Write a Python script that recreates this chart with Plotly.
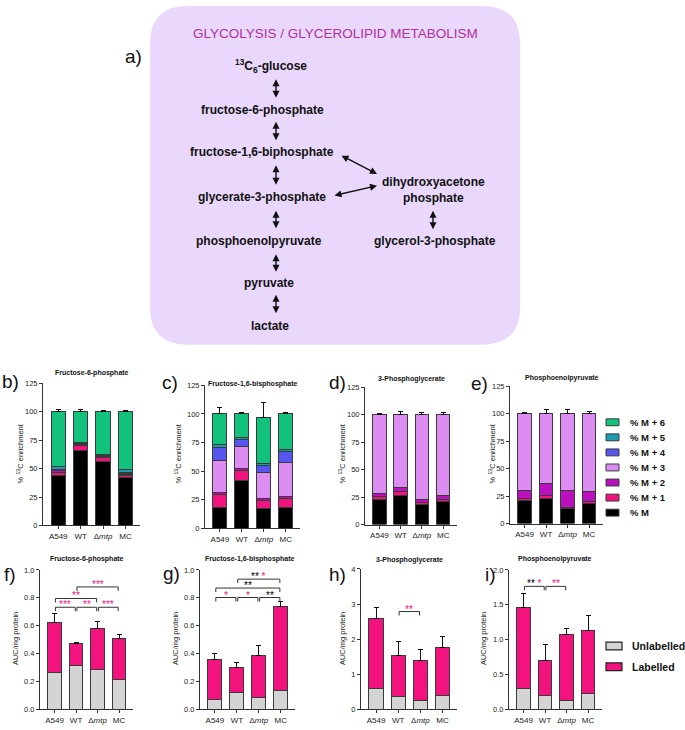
import plotly.graph_objects as go

W, H = 685, 730
FONT = "Liberation Sans, Arial, sans-serif"

# ---------------- data ----------------
groups = ["A549", "WT", "Δmtp", "MC"]
group_ticktext = ["A549", "WT", "Δ<i>mtp</i>", "MC"]

iso_names = ["% M", "% M + 1", "% M + 2", "% M + 3", "% M + 4", "% M + 5", "% M + 6"]
iso_colors = ["#000000", "#f2137e", "#bb10bd", "#dd8cf2", "#5656ee", "#1f9bb0", "#12c27c"]

# b) Fructose-6-phosphate, % 13C enrichment (rows M..M+6, columns = groups)
f6p_iso = [
    [44, 66, 56.5, 42],
    [3, 4, 3, 2],
    [1, 1, 1, 1],
    [0.5, 0.5, 0.5, 0.5],
    [1, 0.5, 0.5, 1.5],
    [2, 0.5, 1, 2],
    [48.5, 27.5, 37.5, 51],
]
f6p_iso_err = [
    [1, 1, 1, 1],
    [1, 1.5, 1, 1],
    [0.5, 0.5, 0.5, 0.5],
    [0.3, 0.3, 0.3, 0.3],
    [0.5, 0.3, 0.3, 0.5],
    [0.5, 0.3, 0.5, 0.5],
    [2, 2, 1.5, 0.7],
]

# c) Fructose-1,6-bisphosphate
f16bp_iso = [
    [18, 42, 17, 18.5],
    [12, 8.5, 7.5, 8],
    [1.5, 1.5, 2, 1.5],
    [27.5, 19.5, 22, 30],
    [12, 6.5, 6.5, 9],
    [2, 1.5, 2, 2],
    [27, 20.5, 40, 31],
]
f16bp_iso_err = [
    [3, 3, 2, 2],
    [1, 1, 3, 1],
    [1, 1, 1, 1],
    [5, 2, 2, 3],
    [2, 2, 2, 2],
    [1.5, 6, 3, 1.5],
    [5.5, 1.3, 13, 1.5],
]

# d) 3-Phosphoglycerate (M..M+3)
pg3_iso = [
    [22.5, 26.5, 18, 21],
    [3, 3.5, 2, 2],
    [3, 4, 2.5, 3],
    [71.5, 66, 77.5, 74],
]
pg3_iso_err = [
    [1.5, 1.5, 1, 1],
    [1, 2, 1, 1],
    [1, 1, 0.5, 1],
    [1, 2.5, 2, 2],
]

# e) Phosphoenolpyruvate (M..M+3)
pep_iso = [
    [20.5, 22.5, 13.5, 18.5],
    [2, 3, 1.5, 1.5],
    [7.5, 11, 15.5, 9.5],
    [70, 63.5, 69.5, 70.5],
]
pep_iso_err = [
    [1.5, 2, 1, 1],
    [1.5, 1.5, 5, 3],
    [1, 3, 6, 2],
    [1.5, 3.5, 3.5, 2],
]

# f-i) AUC / mg protein
auc_names = ["Unlabelled", "Labelled"]
auc_colors = ["#d4d4d4", "#f2137e"]

f6p_unl = [0.266, 0.313, 0.282, 0.212]
f6p_unl_err = [0.03, 0.04, 0.01, 0.02]
f6p_lab = [0.358, 0.157, 0.298, 0.296]
f6p_lab_err = [0.06, 0.01, 0.05, 0.03]

f16bp_unl = [0.071, 0.118, 0.087, 0.136]
f16bp_unl_err = [0.035, 0.037, 0.043, 0.029]
f16bp_lab = [0.289, 0.178, 0.301, 0.605]
f16bp_lab_err = [0.042, 0.04, 0.066, 0.029]

pg3_unl = [0.59, 0.355, 0.243, 0.393]
pg3_unl_err = [0.11, 0.12, 0.085, 0.10]
pg3_lab = [1.99, 1.185, 1.147, 1.364]
pg3_lab_err = [0.33, 0.39, 0.32, 0.32]

pep_unl = [0.298, 0.199, 0.128, 0.227]
pep_unl_err = [0.08, 0.09, 0.05, 0.07]
pep_lab = [1.158, 0.496, 0.945, 0.908]
pep_lab_err = [0.2, 0.23, 0.085, 0.21]

# significance: (group i, group j, height, black stars, pink stars)
f6p_sig = [(0, 1, 0.732, "", "***"), (1, 2, 0.732, "", "**"), (2, 3, 0.732, "", "***"),
           (0, 2, 0.795, "", "**"), (1, 3, 0.878, "", "***")]
f16bp_sig = [(0, 1, 0.802, "", "*"), (1, 2, 0.802, "", "*"), (2, 3, 0.802, "**", ""),
             (0, 3, 0.870, "**", ""), (1, 3, 0.934, "**", "*")]
pg3_sig = [(1, 2, 2.785, "", "**")]
pep_sig = [(0, 1, 1.764, "**", "*"), (1, 2, 1.764, "", "**")]

PINK = "#f2137e"
EDGE = "#3a3a3a"

# ---------------- layout helpers ----------------
def fx(x):
    return x / W

def fy(y):
    return 1 - y / H

fig = go.Figure()
shapes = []
annotations = []

panels = [
    dict(k=1, x=(43, 140), y=(384, 528), rng=[0, 125], tv=[0, 25, 50, 75, 100, 125], fmt=None),
    dict(k=2, x=(205, 300), y=(386, 531), rng=[0, 125], tv=[0, 25, 50, 75, 100, 125], fmt=None),
    dict(k=3, x=(365, 457), y=(388, 527), rng=[0, 125], tv=[0, 25, 50, 75, 100, 125], fmt=None),
    dict(k=4, x=(510, 603), y=(387, 526), rng=[0, 125], tv=[0, 25, 50, 75, 100, 125], fmt=None),
    dict(k=5, x=(40, 133), y=(573, 714), rng=[0, 1], tv=[0, 0.2, 0.4, 0.6, 0.8, 1.0], fmt="{:.1f}"),
    dict(k=6, x=(200, 295), y=(573, 714), rng=[0, 1], tv=[0, 0.2, 0.4, 0.6, 0.8, 1.0], fmt="{:.1f}"),
    dict(k=7, x=(361, 457), y=(572, 714), rng=[0, 4], tv=[0, 1, 2, 3, 4], fmt="{:d}"),
    dict(k=8, x=(509, 602), y=(573, 714), rng=[0, 2], tv=[0, 0.5, 1.0, 1.5, 2.0], fmt="{:.1f}"),
]

def ax_names(k):
    return ("x" if k == 1 else f"x{k}"), ("y" if k == 1 else f"y{k}")

layout_axes = {}
for p in panels:
    k = p["k"]
    xn, yn = ax_names(k)
    tt = [p["fmt"].format(v) for v in p["tv"]] if p["fmt"] else [str(v) for v in p["tv"]]
    layout_axes["xaxis" if k == 1 else f"xaxis{k}"] = dict(
        domain=[fx(p["x"][0]), fx(p["x"][1])], anchor=yn, type="category",
        categoryorder="array", categoryarray=groups,
        range=[-0.68, 3.65], tickvals=groups, ticktext=group_ticktext,
        showline=True, linecolor="#333", linewidth=1, ticks="outside", ticklen=3,
        tickwidth=1, tickcolor="#333", tickfont=dict(size=8, color="#222", family=FONT),
        showgrid=False, zeroline=False, fixedrange=True)
    layout_axes["yaxis" if k == 1 else f"yaxis{k}"] = dict(
        domain=[fy(p["y"][1]), fy(p["y"][0])], anchor=xn, range=p["rng"],
        tickvals=p["tv"], ticktext=tt,
        showline=True, linecolor="#333", linewidth=1, ticks="outside", ticklen=3,
        tickwidth=1, tickcolor="#333", tickfont=dict(size=7.5, color="#222", family=FONT),
        showgrid=False, zeroline=False, fixedrange=True)

def add_stack(k, names, colors, values, errors):
    xn, yn = ax_names(k)
    for name, col, vals, errs in zip(names, colors, values, errors):
        fig.add_trace(go.Bar(
            x=groups, y=vals, name=name, xaxis=xn, yaxis=yn, width=0.64,
            marker=dict(color=col, line=dict(color=EDGE, width=1)),
            error_y=dict(type="data", array=errs, arrayminus=[0] * len(errs), symmetric=False,
                         color="#111", thickness=1, width=2.5),
            showlegend=False, hoverinfo="x+y+name"))

add_stack(1, iso_names, iso_colors, f6p_iso, f6p_iso_err)
add_stack(2, iso_names, iso_colors, f16bp_iso, f16bp_iso_err)
add_stack(3, iso_names[:4], iso_colors[:4], pg3_iso, pg3_iso_err)
add_stack(4, iso_names[:4], iso_colors[:4], pep_iso, pep_iso_err)
add_stack(5, auc_names, auc_colors, [f6p_unl, f6p_lab], [f6p_unl_err, f6p_lab_err])
add_stack(6, auc_names, auc_colors, [f16bp_unl, f16bp_lab], [f16bp_unl_err, f16bp_lab_err])
add_stack(7, auc_names, auc_colors, [pg3_unl, pg3_lab], [pg3_unl_err, pg3_lab_err])
add_stack(8, auc_names, auc_colors, [pep_unl, pep_lab], [pep_unl_err, pep_lab_err])

# significance brackets
def add_sig(k, sigs):
    p = panels[k - 1]
    xn, yn = ax_names(k)
    per_px = (p["rng"][1] - p["rng"][0]) / (p["y"][1] - p["y"][0])
    tick = 4 * per_px
    for i, j, h, blk, pnk in sigs:
        x0, x1 = i + 0.04, j - 0.04
        shapes.append(dict(type="path", xref=xn, yref=yn,
                           path=f"M {x0},{h - tick} L {x0},{h} L {x1},{h} L {x1},{h - tick}",
                           line=dict(color="#333", width=1)))
        parts = []
        if blk:
            parts.append(f"<span style='color:#000000'>{blk}</span>")
        if pnk:
            parts.append(f"<span style='color:{PINK}'>{pnk}</span>")
        annotations.append(dict(x=(i + j) / 2, y=h, xref=xn, yref=yn, text=" ".join(parts),
                                showarrow=False, yanchor="bottom", yshift=-5,
                                font=dict(size=10, family=FONT, color=PINK)))

add_sig(5, f6p_sig)
add_sig(6, f16bp_sig)
add_sig(7, pg3_sig)
add_sig(8, pep_sig)

def text(x, y, s, size, bold=False, color="#111", xanchor="center", angle=0):
    if bold:
        s = f"<b>{s}</b>"
    annotations.append(dict(x=fx(x), y=fy(y), xref="paper", yref="paper", text=s,
                            showarrow=False, xanchor=xanchor, yanchor="middle",
                            textangle=angle, font=dict(size=size, color=color, family=FONT)))

# panel titles
text(92, 374, "Fructose-6-phosphate", 7, bold=True)
text(253, 385, "Fructose-1,6-bisphosphate", 7, bold=True)
text(411, 380, "3-Phosphoglycerate", 7, bold=True)
text(562, 379, "Phosphoenolpyruvate", 7, bold=True)
text(87, 562, "Fructose-6-phosphate", 7, bold=True)
text(250, 562, "Fructose-1,6-bisphosphate", 7, bold=True)
text(409, 563, "3-Phosphoglycerate", 7, bold=True)
text(555, 562, "Phosphoenolpyruvate", 7, bold=True)

# panel letters
for lab, x, y in [("a)", 133, 53), ("b)", 10, 382), ("c)", 170, 383), ("d)", 337, 383),
                  ("e)", 479, 384), ("f)", 10, 578), ("g)", 171, 577), ("h)", 337, 578),
                  ("i)", 490, 578)]:
    text(x, y, lab, 19, color="#111")

# y-axis titles
for x, y in [(20, 455), (178, 455), (342, 455), (492, 455)]:
    text(x, y, "% <sup>13</sup>C enrichment", 7.5, color="#222", angle=-90)
for x, y in [(15, 643), (175, 643), (342, 643), (483, 643)]:
    text(x, y, "AUC/mg protein", 7.5, color="#222", angle=-90)

# legend for b-e (top = M+6)
for n, idx in enumerate(range(6, -1, -1)):
    yc = 423.5 + n * 15.25
    shapes.append(dict(type="rect", xref="paper", yref="paper",
                       x0=fx(606), x1=fx(619), y0=fy(yc + 3.5), y1=fy(yc - 3.5),
                       fillcolor=iso_colors[idx], line=dict(color=EDGE, width=1)))
    text(628, yc, iso_names[idx], 9.5, bold=True, xanchor="left")

# legend for f-i
for n, (name, col) in enumerate(zip(auc_names, auc_colors)):
    yc = 650 + n * 21
    shapes.append(dict(type="rect", xref="paper", yref="paper",
                       x0=fx(606), x1=fx(622), y0=fy(yc + 4), y1=fy(yc - 4),
                       fillcolor=col, line=dict(color="#222", width=1.2)))
    text(630, yc, name, 10.5, bold=True, xanchor="left")

# ---------------- pathway diagram (a) ----------------
def rounded_rect(x0, y0, x1, y1, r):
    rx, ry = r / W, r / H
    X0, X1 = fx(x0), fx(x1)
    Y0, Y1 = fy(y0), fy(y1)
    return (f"M {X0 + rx},{Y0} L {X1 - rx},{Y0} Q {X1},{Y0} {X1},{Y0 - ry} "
            f"L {X1},{Y1 + ry} Q {X1},{Y1} {X1 - rx},{Y1} L {X0 + rx},{Y1} "
            f"Q {X0},{Y1} {X0},{Y1 + ry} L {X0},{Y0 - ry} Q {X0},{Y0} {X0 + rx},{Y0} Z")

shapes.insert(0, dict(type="path", xref="paper", yref="paper", layer="below",
                      path=rounded_rect(150, 2, 520, 345, 38),
                      fillcolor="#e9d8fb", line=dict(width=0)))

text(335, 30, "GLYCOLYSIS / GLYCEROLIPID METABOLISM", 13.5, color="#b0309e")

nodes = [
    ("<sup>13</sup>C<sub>6</sub>-glucose", 271, 63),
    ("fructose-6-phosphate", 262, 107),
    ("fructose-1,6-biphosphate", 262, 150),
    ("glycerate-3-phosphate", 262, 195),
    ("phosphoenolpyruvate", 259, 240),
    ("pyruvate", 269, 282),
    ("lactate", 270, 326),
    ("dihydroxyacetone<br>phosphate", 433, 188),
    ("glycerol-3-phosphate", 435, 240),
]
for s, x, y in nodes:
    text(x, y, s, 12, bold=True, color="#111")

arrows = [
    ((276, 75), (276, 95)),
    ((276, 118), (276, 138)),
    ((276, 162), (276, 183)),
    ((276, 208), (276, 227)),
    ((276, 252), (276, 271)),
    ((276, 293), (276, 313)),
    ((433, 208), (433, 228)),
    ((340, 153), (377, 172)),
    ((333, 194), (377, 184)),
]
for (tx, ty), (hx, hy) in arrows:
    annotations.append(dict(x=fx(hx), y=fy(hy), xref="paper", yref="paper",
                            ax=tx - hx, ay=ty - hy, axref="pixel", ayref="pixel",
                            text="", showarrow=True, arrowhead=2, startarrowhead=2,
                            arrowside="end+start", arrowsize=1, startarrowsize=1,
                            arrowwidth=1.4, arrowcolor="#111", standoff=0, startstandoff=0))

fig.update_layout(
    width=W, height=H, margin=dict(l=0, r=0, t=0, b=0),
    paper_bgcolor="white", plot_bgcolor="white",
    barmode="stack", showlegend=False,
    font=dict(family=FONT, color="#222"),
    shapes=shapes, annotations=annotations,
    **layout_axes,
)

fig.write_html("out.html", config={"displayModeBar": False},
               post_script="document.body.style.margin='0px';document.body.style.overflow='hidden';")
